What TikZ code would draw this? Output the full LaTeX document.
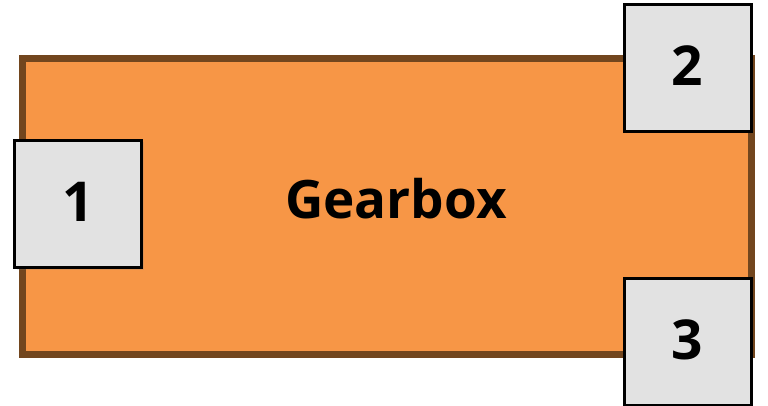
\documentclass[tikz,border=0pt]{standalone}
\usepackage{fontspec}
\setmainfont{Open Sans}
\usetikzlibrary{shadows}

\newlength{\du}
\setlength{\du}{1pt}

\definecolor{gearfill}{rgb}{0.968627, 0.588235, 0.274510}
\definecolor{gearline}{rgb}{0.447059, 0.274510, 0.117647}
\definecolor{portfill}{rgb}{0.886275, 0.886275, 0.886275}

\tikzset{
  housing/.style={draw=gearline, fill=gearfill, line width=7\du,
    minimum width=729\du, minimum height=296\du, inner sep=0pt},
  port/.style={draw=black, fill=portfill, line width=3\du,
    minimum width=127\du, minimum height=127\du, inner sep=0pt,
    text depth=5\du,
    drop shadow={opacity=0.2, shadow xshift=2pt, shadow yshift=-2pt},
    font=\fontsize{55}{60}\selectfont\bfseries},
  title/.style={font=\fontsize{53}{60}\selectfont\bfseries}
}

\begin{document}
\begin{tikzpicture}
\pgftransformxscale{1.000000}
\pgftransformyscale{-1.000000}
\useasboundingbox (0\du,0\du) rectangle (768\du,406\du);
% housing
\node[housing] (gearbox) at (387.000000\du,206.500000\du){};
\node[title] (gearboxlabel) at (396.000000\du,199.000000\du){Gearbox};
% ports
\node[port] (portone) at (78.000000\du,204.000000\du){1};
\node[port] (porttwo) at (687.500000\du,68.000000\du){2};
\node[port] (portthree) at (687.500000\du,342.000000\du){3};
\end{tikzpicture}
\end{document}
